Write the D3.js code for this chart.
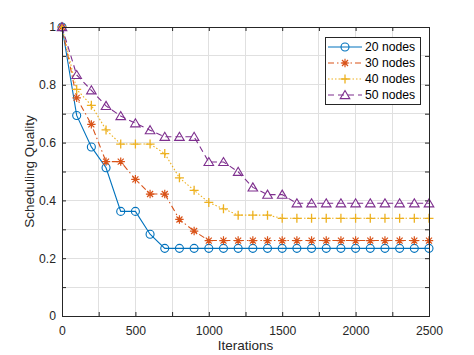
<!DOCTYPE html>
<html>
<head>
<meta charset="utf-8">
<script src="https://cdn.jsdelivr.net/npm/d3@7"></script>
<style>
  html, body { margin: 0; padding: 0; background: #fff; }
  text { font-family: "Liberation Sans", Arial, sans-serif; }
</style>
</head>
<body>
<svg id="chart" width="474" height="355"></svg>
<script>
const iterations = d3.range(0, 2501, 100);
const seriesNames = ["20 nodes", "30 nodes", "40 nodes", "50 nodes"];
const nodes20 = [1.0, 0.694, 0.585, 0.513, 0.362, 0.362, 0.283, 0.234, 0.234, 0.234, 0.234, 0.234, 0.234, 0.234, 0.234, 0.234, 0.234, 0.234, 0.234, 0.234, 0.234, 0.234, 0.234, 0.234, 0.234, 0.234];
const nodes30 = [1.0, 0.755, 0.663, 0.534, 0.534, 0.473, 0.422, 0.422, 0.334, 0.294, 0.261, 0.261, 0.261, 0.261, 0.261, 0.261, 0.261, 0.261, 0.261, 0.261, 0.261, 0.261, 0.261, 0.261, 0.261, 0.261];
const nodes40 = [1.0, 0.784, 0.729, 0.644, 0.595, 0.595, 0.595, 0.562, 0.478, 0.435, 0.393, 0.371, 0.349, 0.349, 0.349, 0.338, 0.338, 0.338, 0.338, 0.338, 0.338, 0.338, 0.338, 0.338, 0.338, 0.338];
const nodes50 = [1.0, 0.834, 0.781, 0.727, 0.692, 0.667, 0.643, 0.620, 0.620, 0.620, 0.533, 0.533, 0.499, 0.445, 0.420, 0.420, 0.390, 0.390, 0.390, 0.390, 0.390, 0.390, 0.390, 0.390, 0.390, 0.390];
const xTicks = [0, 500, 1000, 1500, 2000, 2500];
const yTicks = [0, 0.2, 0.4, 0.6, 0.8, 1];
const xGrid = d3.range(0, 2501, 250);
const yGrid = d3.range(0, 1.001, 0.1);

const colors = ["#0072BD", "#D95319", "#EDB120", "#7E2F8E"];
const dashes = [null, "6,3,1.5,3", "1.5,2", "6,4"];
const markers = ["circle", "asterisk", "plus", "triangle"];
const seriesData = [nodes20, nodes30, nodes40, nodes50];

const svg = d3.select("#chart");
const L = 62, R = 429, T = 27, B = 316;
const x = d3.scaleLinear().domain([0, 2500]).range([L, R]);
const y = d3.scaleLinear().domain([0, 1]).range([B, T]);
const axisColor = "#262626";

// grid
const g = svg.append("g");
g.selectAll(".gx").data(xGrid).join("line")
  .attr("x1", d => x(d)).attr("x2", d => x(d)).attr("y1", T).attr("y2", B)
  .attr("stroke", "#e0e0e0").attr("stroke-width", 1).attr("shape-rendering", "crispEdges");
g.selectAll(".gy").data(yGrid).join("line")
  .attr("y1", d => y(d)).attr("y2", d => y(d)).attr("x1", L).attr("x2", R)
  .attr("stroke", "#e0e0e0").attr("stroke-width", 1).attr("shape-rendering", "crispEdges");

// axes
function styleAxis(sel) {
  sel.selectAll("path").attr("stroke", axisColor).attr("stroke-width", 1);
  sel.selectAll("line").attr("stroke", axisColor);
  sel.selectAll("text").attr("fill", axisColor).attr("font-size", "12.2px")
     .attr("font-family", "Liberation Sans, Arial, sans-serif");
}
const xAxis = svg.append("g").attr("transform", `translate(0,${B})`)
  .call(d3.axisBottom(x).tickValues(xGrid).tickSize(-4).tickSizeOuter(0)
    .tickFormat(d => xTicks.includes(d) ? d : "").tickPadding(8));
styleAxis(xAxis);
xAxis.selectAll("text").attr("dy", "0.9em");
const xAxisTop = svg.append("g").attr("transform", `translate(0,${T})`)
  .call(d3.axisTop(x).tickValues(xGrid).tickSize(-4).tickSizeOuter(0).tickFormat(""));
styleAxis(xAxisTop);
const yAxis = svg.append("g").attr("transform", `translate(${L},0)`)
  .call(d3.axisLeft(y).tickValues(yGrid).tickSize(-4).tickSizeOuter(0)
    .tickFormat(d => yTicks.some(t => Math.abs(t - d) < 1e-6) ? d3.format("")(+d.toFixed(1)) : "").tickPadding(6));
styleAxis(yAxis);
const yAxisRight = svg.append("g").attr("transform", `translate(${R},0)`)
  .call(d3.axisRight(y).tickValues(yGrid).tickSize(-4).tickSizeOuter(0).tickFormat(""));
styleAxis(yAxisRight);

// axis labels
svg.append("text").attr("x", (L + R) / 2).attr("y", 350).attr("text-anchor", "middle")
  .attr("font-size", "13.5px").attr("fill", axisColor).text("Iterations");
svg.append("text").attr("transform", `translate(34,${(T + B) / 2}) rotate(-90)`)
  .attr("text-anchor", "middle").attr("font-size", "13.5px").attr("fill", axisColor).text("Scheduling Quality");

function drawMarker(sel, type, color) {
  if (type === "circle") {
    sel.append("circle").attr("r", 4).attr("fill", "none").attr("stroke", color).attr("stroke-width", 1.1);
  } else if (type === "triangle") {
    sel.append("path").attr("d", "M0,-4.5L4.8,3.6L-4.8,3.6Z").attr("fill", "none").attr("stroke", color).attr("stroke-width", 1.1);
  } else if (type === "plus") {
    sel.append("path").attr("d", "M-4.5,0H4.5M0,-4.5V4.5").attr("stroke", color).attr("stroke-width", 1.3);
  } else if (type === "asterisk") {
    sel.append("path").attr("d", "M-4.2,0H4.2M0,-4.2V4.2M-3,-3L3,3M-3,3L3,-3").attr("stroke", color).attr("stroke-width", 1.2);
  }
}

const line = d3.line().x((d, i) => x(iterations[i])).y(d => y(d));
seriesData.forEach((vals, s) => {
  svg.append("path").datum(vals).attr("d", line).attr("fill", "none")
    .attr("stroke", colors[s]).attr("stroke-width", 1.1)
    .attr("stroke-dasharray", dashes[s]);
});
seriesData.forEach((vals, s) => {
  vals.forEach((v, i) => {
    const m = svg.append("g").attr("transform", `translate(${x(iterations[i])},${y(v)})`);
    drawMarker(m, markers[s], colors[s]);
  });
});

// box on top
svg.append("rect").attr("x", L).attr("y", T).attr("width", R - L).attr("height", B - T)
  .attr("fill", "none").attr("stroke", axisColor).attr("stroke-width", 1).attr("shape-rendering", "crispEdges");

// legend
const lg = svg.append("g");
lg.append("rect").attr("x", 325).attr("y", 37).attr("width", 95).attr("height", 67)
  .attr("fill", "#fff").attr("stroke", axisColor).attr("stroke-width", 1).attr("shape-rendering", "crispEdges");
seriesNames.forEach((name, s) => {
  const cy = 47 + s * 16;
  lg.append("line").attr("x1", 328).attr("x2", 362).attr("y1", cy).attr("y2", cy)
    .attr("stroke", colors[s]).attr("stroke-width", 1.1).attr("stroke-dasharray", dashes[s]);
  const m = lg.append("g").attr("transform", `translate(345,${cy})`);
  drawMarker(m, markers[s], colors[s]);
  lg.append("text").attr("x", 365).attr("y", cy).attr("dy", "0.35em")
    .attr("font-size", "12.2px").attr("fill", "#000").text(name);
});
</script>
</body>
</html>
